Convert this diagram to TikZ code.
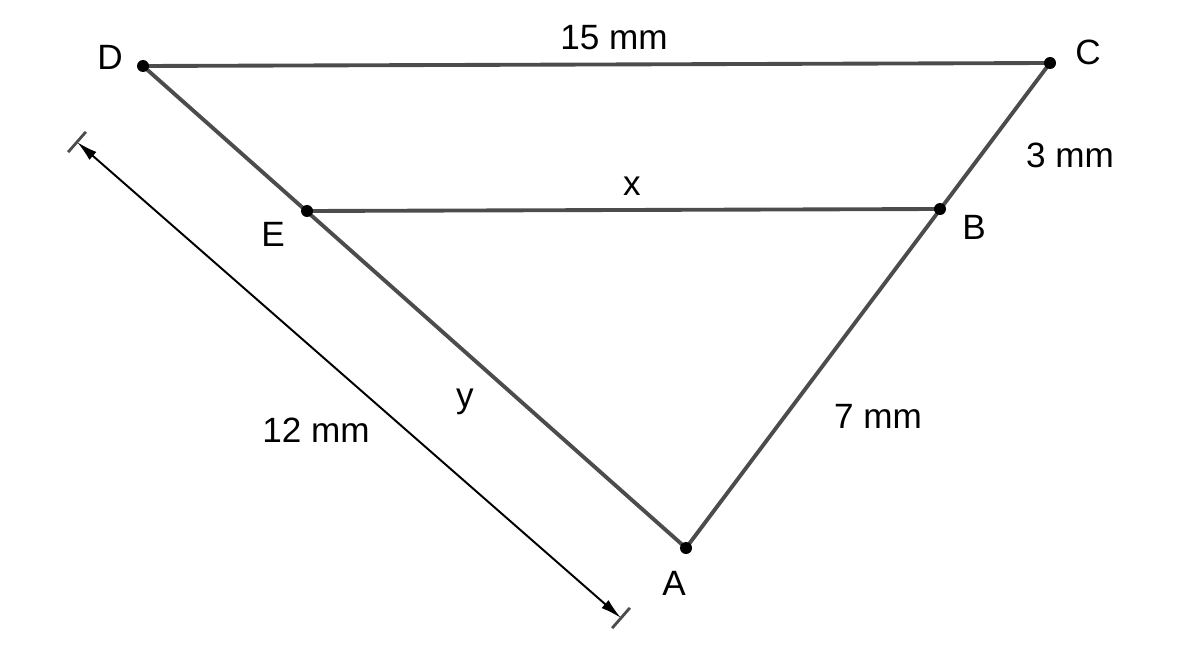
\documentclass[tikz,border=0pt]{standalone}
\usepackage{fontspec}
\setmainfont{Liberation Sans}
\usetikzlibrary{calc, arrows.meta}

\begin{document}
\begin{tikzpicture}[x=0.02cm, y=-0.02cm,
  side/.style={draw=black!70, line width=2.2pt},
  dot/.style={circle, fill=black, inner sep=0pt, minimum size=0.24cm},
  lbl/.style={font=\fontsize{20}{24}\selectfont}]
\useasboundingbox (0,0) rectangle (1199,655);
% points
\coordinate (D) at (143,66);
\coordinate (C) at (1050,63);
\coordinate (E) at (307,211);
\coordinate (B) at (940,209);
\coordinate (A) at (686,548);
\draw[side] (D) -- (C) -- (A) -- (D)
(E) -- (B);
\foreach \p in {D,C,E,B,A}
  \node[dot] at (\p) {};
% labels
\node[lbl] at (110,57) {D};
\node[lbl] at (1088,52) {C};
\node[lbl] at (273,234) {E};
\node[lbl] at (974,227) {B};
\node[lbl] at (674,583) {A};
\node[lbl] at (614,38) {15 mm};
\node[lbl] at (632,186) {x};
\node[lbl] at (1070,155) {3 mm};
\node[lbl] at (465,402) {y};
\node[lbl] at (878,416) {7 mm};
\node[lbl] at (316,430) {12 mm};
% dimension line
\coordinate (s) at (77,142);
\coordinate (e) at (621,618);
\draw[line width=1.1pt, {Latex[length=12pt,width=6pt]}-{Latex[length=12pt,width=6pt]}] (s) -- (e);
\draw[draw=black!70, line width=1.6pt] ($(s)!0.27cm!90:(e)$) -- ($(s)!0.27cm!-90:(e)$)
($(e)!0.27cm!90:(s)$) -- ($(e)!0.27cm!-90:(s)$);
\end{tikzpicture}
\end{document}
